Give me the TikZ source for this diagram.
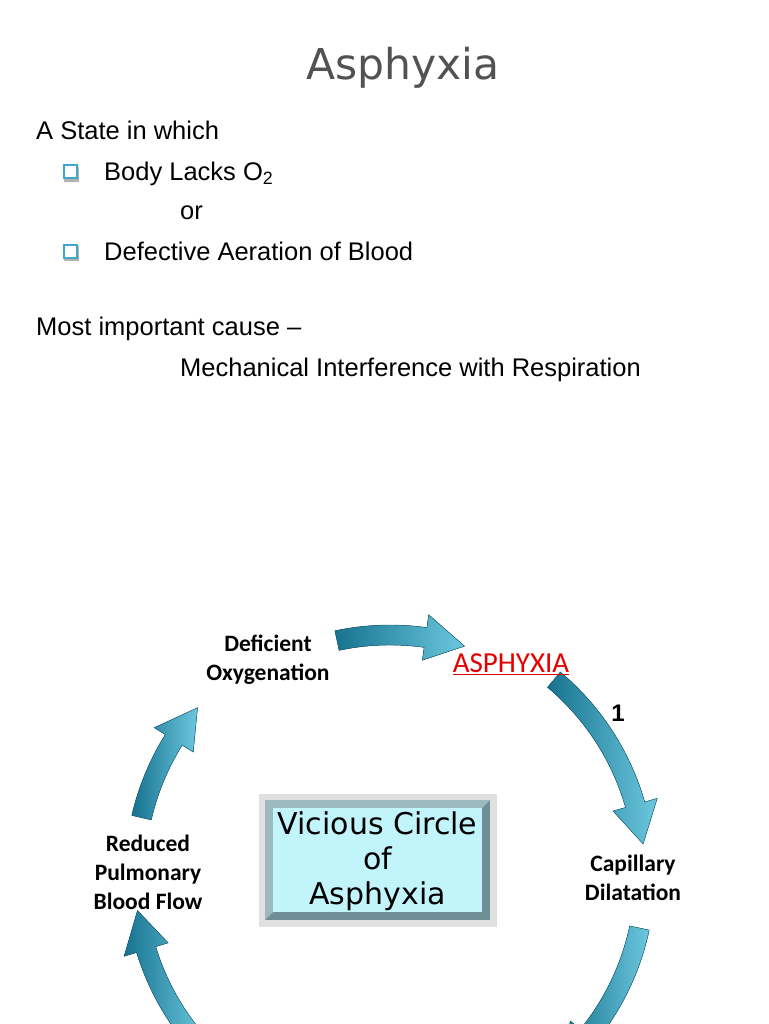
\documentclass[tikz,border=0pt]{standalone}
\usepackage{fontspec}
\setmainfont{Liberation Sans}
\newfontfamily\ttl{DejaVu Sans}
\newfontfamily\lbl{Carlito}
\definecolor{tdark}{HTML}{17728F}
\definecolor{tlight}{HTML}{6CC8DE}
\definecolor{bx}{HTML}{C2F4FB}
\definecolor{bxb}{HTML}{6E8F96}
\definecolor{bxl}{HTML}{9DB8BE}
\definecolor{bulc}{HTML}{3FA9C9}
\begin{document}
\begin{tikzpicture}[x=1pt,y=-1pt,
  body/.style={anchor=base west,inner sep=0,font=\fontsize{25.5}{28}\selectfont},
  lab/.style={align=center,font=\lbl\bfseries\fontsize{23.5}{29}\selectfont},
  bul/.style={draw=bulc,line width=2pt,minimum size=13pt,inner sep=0,fill=white}]
\useasboundingbox (0,0) rectangle (768,1024);
\clip (0,0) rectangle (768,1024);
\node[font=\ttl\fontsize{42.5}{44}\selectfont,text=black!68] (title) at (403,68) {Asphyxia};
\node[body] (t1) at (36,140) {A State in which};
\fill[black!30] (64,167) rectangle (79,182);
\node[bul] (b1) at (70,172) {};
\node[body] (t2) at (104,181) {Body Lacks O\textsubscript{2}};
\node[body] (t3) at (180,220) {or};
\fill[black!30] (64,246) rectangle (79,261);
\node[bul] (b2) at (70,251) {};
\node[body] (t4) at (104,260) {Defective Aeration of Blood};
\node[body] (t5) at (36,335) {Most important cause --};
\node[body] (t6) at (180,376) {Mechanical Interference with Respiration};
% arrows
\foreach \a/\b/\dy in {-102/-73/15, -50/-7/0, 12/48/0, 139/172/0, -167/-139/0}{
  \begin{scope}[shift={(390,875+\dy)}]
  \pgfmathsetmacro\c{\b-9}
  \fill[left color=tdark,right color=tlight,draw=tdark!80!black,line width=0.4pt]
    (\a:245) arc[start angle=\a,end angle=\c,radius=245] -- (\c:232) -- (\b:255) -- (\c:278)
    -- (\c:265) arc[start angle=\c,end angle=\a,radius=265] -- cycle;
  \end{scope}
}
\node[lab] (def) at (268,660) {Deficient\\Oxygenation};
\node[font=\lbl\fontsize{29}{30}\selectfont,text=red!90!black] (asp) at (511,664) {\underline{ASPHYXIA}};
\node[font=\bfseries\fontsize{24}{26}\selectfont] (one) at (618,713) {1};
\node[lab] (cap) at (633,878) {Capillary\\Dilatation};
\node[lab] (red) at (148,872) {Reduced\\Pulmonary\\Blood Flow};
\fill[black!12] (259,794) rectangle (497,927);
\fill[bxb] (265,800) rectangle (490,920);
\fill[bxl] (265,800) -- (490,800) -- (482,808) -- (273,808) -- (273,912) -- (265,920) -- cycle;
\node[fill=bx,minimum width=209pt,minimum height=104pt,inner sep=0] (box) at (377.5,860) {};
\node[align=center,font=\ttl\fontsize{30}{35}\selectfont] (boxt) at (377.5,861) {Vicious Circle\\of\\Asphyxia};
\end{tikzpicture}
\end{document}
